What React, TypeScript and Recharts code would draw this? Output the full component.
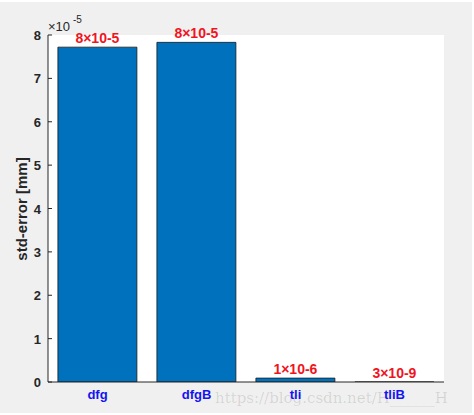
import React from 'react';
import { BarChart, Bar, XAxis, YAxis, CartesianGrid, LabelList } from 'recharts';

const categories = ['dfg', 'dfgB', 'tli', 'tliB'];
const values = [7.72, 7.83, 0.09, 0.0003]; // in units of 1e-5 mm
const valueLabels = ['8×10-5', '8×10-5', '1×10-6', '3×10-9'];
const yTicks = [0, 1, 2, 3, 4, 5, 6, 7, 8];

const data = categories.map((c, i) => ({ name: c, value: values[i], label: valueLabels[i] }));

const FONT = '"Liberation Sans", Arial, Helvetica, sans-serif';
const AXIS = '#262626';

const YTick = (props: any) => {
  const { x, y, payload } = props;
  return (
    <g>
      <line x1={x} x2={x + 4} y1={y} y2={y} stroke={AXIS} strokeWidth={1} />
      <text x={x - 7} y={y} dy={5} textAnchor="end" fontFamily={FONT} fontWeight="bold" fontSize={13} fill={AXIS}>
        {payload.value}
      </text>
    </g>
  );
};

const XTick = (props: any) => {
  const { x, y, payload } = props;
  return (
    <text x={x} y={y} dy={17} textAnchor="middle" fontFamily={FONT} fontWeight="bold" fontSize={13} fill="#1414f0">
      {payload.value}
    </text>
  );
};

const TopLabel = (props: any) => {
  const { x, y, width, value } = props;
  return (
    <text x={x + width / 2} y={y - 4} textAnchor="middle" fontFamily={FONT} fontWeight="bold" fontSize={14} fill="#f0141e">
      {value}
    </text>
  );
};

export default function App() {
  return (
    <div style={{ position: 'fixed', left: 0, top: 0, width: 474, height: 415, background: '#ffffff' }}>
      <div style={{ position: 'absolute', left: 0, top: 2, width: 472, height: 411, background: '#f0f0f0' }} />
      <div style={{ position: 'absolute', left: 0, top: 0 }}>
        <BarChart
          width={474}
          height={415}
          data={data}
          margin={{ top: 35, right: 30, bottom: 32, left: 0 }}
          barCategoryGap="10%"
        >
          <CartesianGrid horizontal={false} vertical={false} fill="#ffffff" />
          <XAxis
            dataKey="name"
            stroke={AXIS}
            tickLine={false}
            tickSize={0}
            tickMargin={0}
            tick={<XTick />}
            interval={0}
            height={1}
          />
          <YAxis
            type="number"
            domain={[0, 8]}
            ticks={yTicks}
            stroke={AXIS}
            tickLine={false}
            tickSize={0}
            tickMargin={0}
            tick={<YTick />}
            width={48}
            interval={0}
            allowDataOverflow
          />
          <Bar dataKey="value" fill="#0072BD" stroke="#1a1a1a" strokeWidth={0.8} isAnimationActive={false}>
            <LabelList dataKey="label" content={<TopLabel />} />
          </Bar>
          <text x={48} y={31} fontFamily={FONT} fontSize={13} fill={AXIS}>×10</text>
          <text x={73} y={23} fontFamily={FONT} fontSize={10} fill={AXIS}>-5</text>
          <text
            x={23}
            y={209}
            transform="rotate(-90 23 209)"
            textAnchor="middle"
            dominantBaseline="middle"
            fontFamily={FONT}
            fontWeight="bold"
            fontSize={15}
            fill={AXIS}
          >
            std-error [mm]
          </text>
          <text x={215} y={403} fontFamily='"DejaVu Serif", "Liberation Serif", serif' fontSize={15} fill="#000000" fillOpacity={0.12}>
            https://blog.csdn.net/H______H
          </text>
        </BarChart>
      </div>
    </div>
  );
}
